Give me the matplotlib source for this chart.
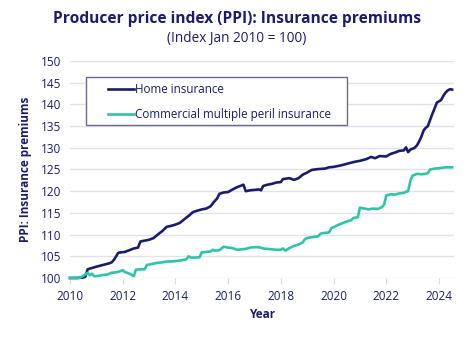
import matplotlib
matplotlib.use("Agg")
import matplotlib.pyplot as plt
from matplotlib.patches import Rectangle

navy = "#1b1c6b"
teal = "#2ec4a8"

# decimal years, values
home_x = [2010.0, 2010.25, 2010.5, 2010.58, 2010.67, 2010.83, 2011.0, 2011.25, 2011.5, 2011.58,
          2011.67, 2011.75, 2011.83, 2011.92, 2012.08, 2012.25, 2012.42, 2012.58, 2012.67, 2012.83,
          2013.0, 2013.17, 2013.33, 2013.5, 2013.67, 2013.83, 2014.0, 2014.17, 2014.33, 2014.5,
          2014.67, 2014.83, 2015.0, 2015.17, 2015.33, 2015.5, 2015.58, 2015.67, 2015.83, 2016.0,
          2016.17, 2016.33, 2016.5, 2016.58, 2016.67, 2016.83, 2017.0, 2017.17, 2017.25, 2017.33,
          2017.5, 2017.67, 2017.83, 2018.0, 2018.08, 2018.33, 2018.5, 2018.67, 2018.83, 2019.0,
          2019.17, 2019.42, 2019.67, 2019.83, 2020.0, 2020.25, 2020.5, 2020.75, 2021.0, 2021.25,
          2021.42, 2021.58, 2021.75, 2022.0, 2022.17, 2022.33, 2022.5, 2022.67, 2022.75, 2022.83,
          2022.92, 2023.08, 2023.17, 2023.25, 2023.33, 2023.42, 2023.5, 2023.58, 2023.67, 2023.75,
          2023.83, 2023.92, 2024.0, 2024.08, 2024.17, 2024.25, 2024.33, 2024.42, 2024.5]
home_y = [100.0, 100.0, 100.1, 100.3, 102.0, 102.3, 102.6, 103.0, 103.4, 103.6,
          104.2, 105.0, 105.8, 105.9, 106.0, 106.4, 106.8, 107.0, 108.4, 108.6,
          108.8, 109.2, 110.0, 110.8, 111.8, 112.0, 112.3, 112.7, 113.5, 114.3,
          115.2, 115.5, 115.8, 116.0, 116.5, 117.8, 118.3, 119.4, 119.7, 119.8,
          120.4, 120.9, 121.3, 121.5, 120.0, 120.2, 120.3, 120.4, 120.2, 121.2,
          121.5, 121.7, 122.0, 122.1, 122.8, 123.0, 122.6, 123.0, 123.8, 124.3,
          124.9, 125.1, 125.2, 125.5, 125.6, 125.9, 126.3, 126.7, 127.0, 127.4,
          127.9, 127.6, 128.1, 128.0, 128.6, 128.9, 129.3, 129.4, 130.1, 129.0,
          129.6, 130.0, 130.6, 131.5, 132.5, 134.0, 134.6, 135.0, 136.5, 137.8,
          139.0, 140.4, 140.7, 141.0, 142.0, 142.7, 143.2, 143.5, 143.4]

comm_x = [2010.0, 2010.33, 2010.42, 2010.5, 2010.58, 2010.67, 2010.75, 2010.83, 2010.92, 2011.08,
          2011.25, 2011.42, 2011.58, 2011.75, 2011.92, 2012.0, 2012.08, 2012.25, 2012.33, 2012.42,
          2012.5, 2012.67, 2012.83, 2012.92, 2013.08, 2013.33, 2013.5, 2013.67, 2013.83, 2014.0,
          2014.17, 2014.33, 2014.42, 2014.5, 2014.58, 2014.75, 2014.92, 2015.0, 2015.17, 2015.33,
          2015.42, 2015.5, 2015.67, 2015.83, 2016.0, 2016.17, 2016.33, 2016.5, 2016.67, 2016.83,
          2017.0, 2017.17, 2017.33, 2017.5, 2017.67, 2017.83, 2018.0, 2018.08, 2018.17, 2018.25,
          2018.33, 2018.5, 2018.67, 2018.83, 2018.92, 2019.0, 2019.17, 2019.42, 2019.5, 2019.67,
          2019.83, 2019.92, 2020.0, 2020.17, 2020.33, 2020.5, 2020.67, 2020.75, 2020.92, 2021.0,
          2021.17, 2021.33, 2021.5, 2021.67, 2021.83, 2021.92, 2022.0, 2022.17, 2022.33, 2022.5,
          2022.67, 2022.75, 2022.83, 2022.92, 2023.0, 2023.17, 2023.33, 2023.5, 2023.58, 2023.67,
          2023.83, 2024.0, 2024.25, 2024.5]
comm_y = [100.0, 100.0, 100.2, 100.5, 100.8, 101.2, 100.6, 101.0, 100.4, 100.5,
          100.7, 100.8, 101.2, 101.3, 101.6, 101.8, 101.4, 101.0, 100.8, 100.4,
          101.9, 102.0, 102.0, 103.0, 103.2, 103.5, 103.6, 103.8, 103.8, 103.9,
          104.0, 104.2, 104.3, 105.0, 104.7, 104.7, 104.8, 105.9, 106.0, 106.1,
          106.5, 106.3, 106.4, 107.2, 107.0, 106.9, 106.5, 106.6, 106.7, 107.0,
          107.1, 107.1, 106.8, 106.7, 106.6, 106.5, 106.5, 106.8, 106.3, 106.6,
          106.9, 107.4, 107.7, 108.2, 109.0, 109.2, 109.4, 109.6, 110.2, 110.4,
          110.5, 111.5, 111.7, 112.2, 112.6, 113.0, 113.3, 113.8, 114.0, 116.2,
          116.0, 115.8, 116.0, 115.9, 116.3, 116.9, 119.0, 119.3, 119.2, 119.5,
          119.6, 119.9, 120.0, 122.5, 123.6, 124.0, 123.9, 124.0, 124.2, 125.0,
          125.2, 125.3, 125.5, 125.5]

x_ticks = [2010, 2012, 2014, 2016, 2018, 2020, 2022, 2024]
y_ticks = [100, 105, 110, 115, 120, 125, 130, 135, 140, 145, 150]

plt.rcParams['font.family'] = ['Open Sans', 'DejaVu Sans']

fig = plt.figure(figsize=(4.74, 3.41), dpi=100)
ax = fig.add_axes([0.1477, 0.1848, 0.810, 0.6363])

ax.plot(home_x, home_y, color=navy, lw=1.9, label="Home insurance", clip_on=False, zorder=3)
ax.plot(comm_x, comm_y, color=teal, lw=1.9, label="Commercial multiple peril insurance",
        clip_on=False, zorder=3)

ax.set_xlim(2010, 2024.57)
ax.set_ylim(100, 150)
ax.set_xticks(x_ticks)
ax.set_yticks(y_ticks)
ax.grid(axis='y', color='#e2e2ec', lw=1.0)
ax.set_axisbelow(True)
for s in ax.spines.values():
    s.set_visible(False)
ax.tick_params(axis='y', length=0, pad=6.5, labelsize=8.5, labelcolor=navy)
ax.tick_params(axis='x', length=4, color='#d8d8e2', pad=4.5, labelsize=8.5, labelcolor=navy)

ax.set_xlabel("Year", color=navy, fontsize=8.5, fontweight='bold', labelpad=4)
ax.set_ylabel("PPI: Insurance premiums", color=navy, fontsize=8.5, fontweight='bold', labelpad=6)

fig.text(0.5, 0.945, "Producer price index (PPI): Insurance premiums", ha='center', va='center',
         color=navy, fontsize=11.2, fontweight='bold')
fig.text(0.5, 0.888, "(Index Jan 2010 = 100)", ha='center', va='center', color=navy, fontsize=9.8)

# legend box drawn separately: wider side padding than matplotlib allows
ax.add_patch(Rectangle((0.042, 0.705), 0.68, 0.223, transform=ax.transAxes, fill=True,
                       facecolor='white', edgecolor='#6a6a90', lw=1.0, zorder=4, clip_on=False))
leg = ax.legend(loc='upper left', bbox_to_anchor=(0.0995, 0.899), borderaxespad=0,
                frameon=False, fontsize=8.4, handlelength=2.2,
                handletextpad=0.1, labelspacing=1.0, borderpad=0)
leg.set_zorder(5)
for t in leg.get_texts():
    t.set_color(navy)

fig.savefig("out.png", dpi=100)
